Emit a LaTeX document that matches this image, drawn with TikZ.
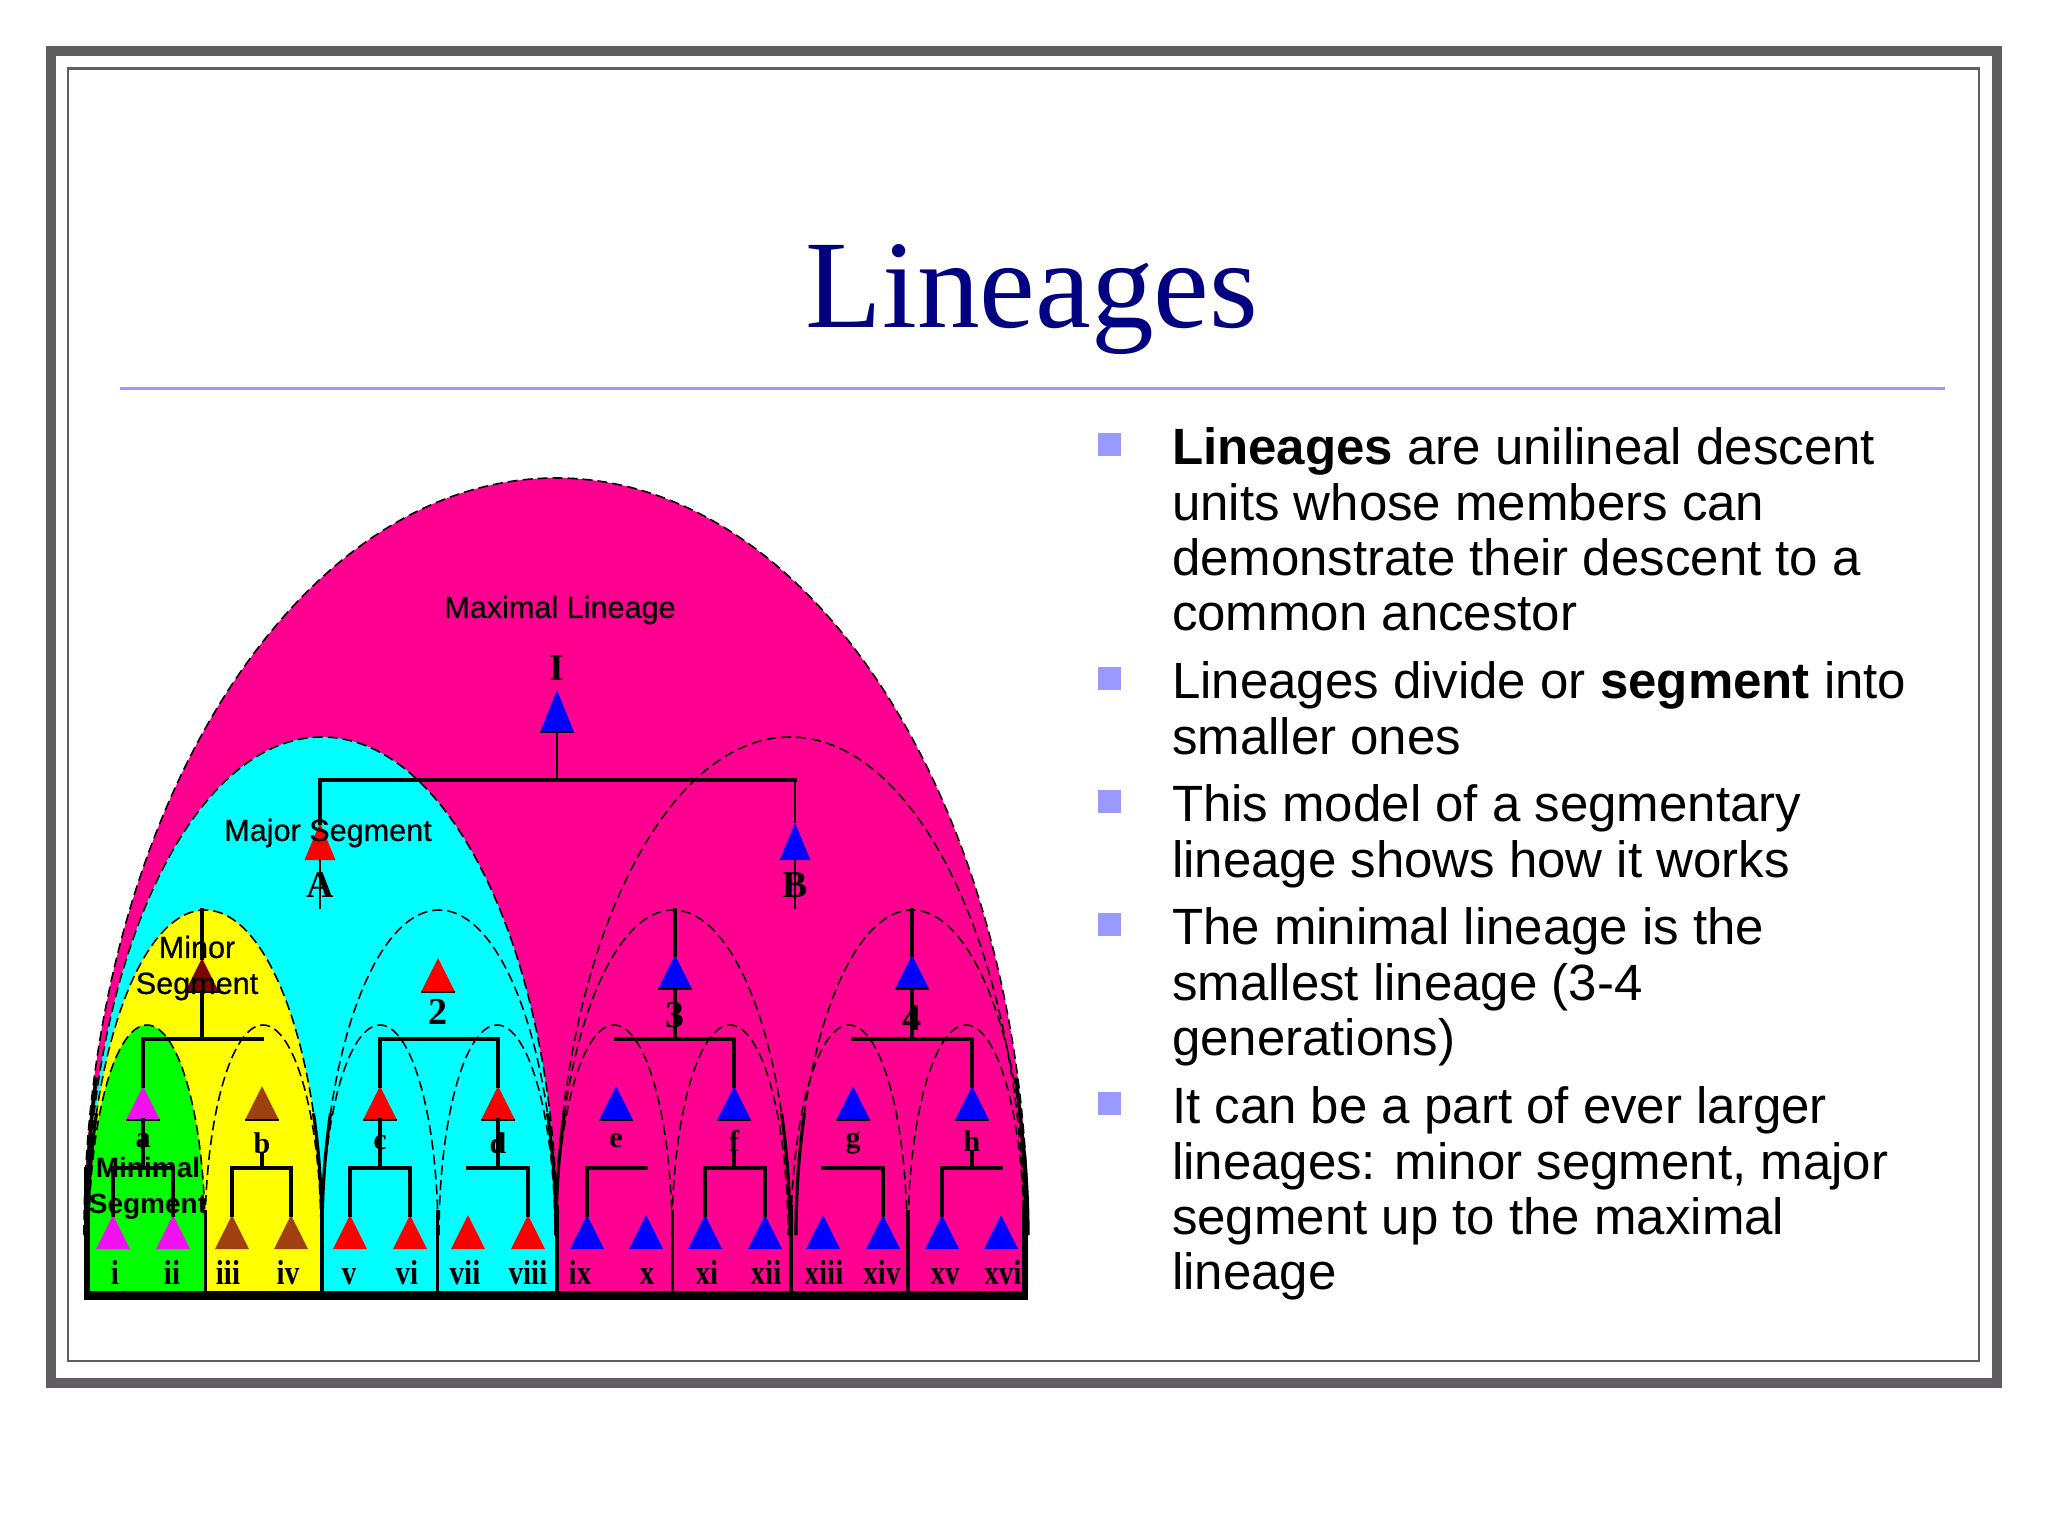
\documentclass[tikz,border=0pt]{standalone}
\usepackage{fontspec}
\setmainfont{Liberation Sans}
\newfontfamily\lserif{Liberation Serif}
\newfontfamily\segfont[FakeBold=0.7]{Liberation Sans}
\usetikzlibrary{shapes.geometric}
\definecolor{framegray}{HTML}{605E60}
\definecolor{titlenavy}{HTML}{000080}
\definecolor{accentblue}{HTML}{9999FF}
\definecolor{hotpink}{HTML}{FF0090}
\definecolor{lcyan}{HTML}{00FFFF}
\definecolor{lyellow}{HTML}{FFFF00}
\definecolor{lgreen}{HTML}{00FF00}
\definecolor{lblue}{HTML}{0000FF}
\definecolor{lred}{HTML}{FF0000}
\definecolor{lmag}{HTML}{F010F0}
\definecolor{lbrown}{HTML}{A04010}
\definecolor{ldark}{HTML}{800000}
\tikzset{
  x=0.5pt,y=-0.5pt,
  tribox/.style={isosceles triangle,isosceles triangle stretches,shape border rotate=90,
    minimum width=17pt,minimum height=17pt,inner sep=0pt,outer sep=0pt,anchor=apex,draw=none},
  tallbox/.style={tribox,minimum width=17pt,minimum height=21pt},
  midbox/.style={tribox,minimum width=15.5pt,minimum height=18.5pt},
  tree/.style={line width=1.7pt,black,line cap=rect},
  thinstem/.style={line width=1.2pt,black},
  dasharc/.style={line width=0.8pt,black,dash pattern=on 5pt off 2.5pt},
  bulsq/.style={fill=accentblue,draw=none,minimum size=11.5pt,inner sep=0pt,outer sep=0pt},
  bultext/.style={anchor=north west,align=left,inner sep=0pt,outer sep=0pt,
    font=\fontsize{25.5}{27.6}\selectfont},
  roman/.style={inner sep=0pt,font=\lserif\bfseries\fontsize{14.5}{15}\selectfont},
  letter/.style={inner sep=0pt,font=\lserif\bfseries\fontsize{15}{15}\selectfont},
  big/.style={inner sep=0pt,font=\lserif\bfseries\fontsize{19}{19}\selectfont},
  seg/.style={inner sep=0pt,align=center,font=\segfont\fontsize{15.3}{18}\selectfont}
}
\newcommand\archfill[4]{\fill[#4] (#1-#2,1291) -- (#1-#2,1235) arc[start angle=180,end angle=0,x radius={#2*0.5pt},y radius={1235*0.5pt-#3*0.5pt}] -- (#1+#2,1291) -- cycle;}
\newcommand\archline[3]{\draw[dasharc] (#1-#2,1235) arc[start angle=180,end angle=0,x radius={#2*0.5pt},y radius={1235*0.5pt-#3*0.5pt}];}
\newcommand\archfoot[4]{%
  \draw[line width=1.6pt] (#1-#2,1235) arc[start angle=180,end angle={180-#4},x radius={#2*0.5pt},y radius={1235*0.5pt-#3*0.5pt}];
  \draw[line width=1.6pt] (#1+#2,1235) arc[start angle=0,end angle={#4},x radius={#2*0.5pt},y radius={1235*0.5pt-#3*0.5pt}];}
\newcommand\tri[4]{\node[tribox,fill=#4] (#1) at (#2,#3) {};}
\newcommand\trib[4]{\node[tribox,fill=#4] (#1) at (#2,#3) {};\draw[line width=1.2pt] (#1.left corner) -- (#1.right corner);}
\newcommand\bul[4]{\node[bulsq] (#1s) at (1109.5,#2) {};\node[bultext] (#1) at (1172,#3) {#4};}
\begin{document}
\begin{tikzpicture}
\useasboundingbox (0,0) rectangle (2048,1536);
\fill[white] (0,0) rectangle (2048,1536);
% frames
\node[draw=framegray,line width=5pt,minimum width=973pt,minimum height=665.75pt,inner sep=0pt,outer sep=0pt] (outerframe) at (1024,716.75) {};
\node[draw=framegray,line width=1.2pt,minimum width=955.5pt,minimum height=646.25pt,inner sep=0pt,outer sep=0pt] (innerframe) at (1023.5,714.75) {};
% title
\node[anchor=base,inner sep=0pt,text=titlenavy,font=\lserif\fontsize{62.7}{63}\selectfont] (title) at (1032,327) {Lineages};
\coordinate (ruleL) at (120,388);
\coordinate (ruleR) at (1945,388);
\draw[accentblue,line width=1.5pt] (ruleL) -- (ruleR);
% bullets
\bul{b1}{444.5}{428}{\textbf{Lineages} are unilineal descent\\units whose members can\\demonstrate their descent to a\\common ancestor}
\bul{b2}{678}{662}{Lineages divide or \textbf{segment} into\\smaller ones}
\bul{b3}{801}{785}{This model of a segmentary\\lineage shows how it works}
\bul{b4}{924}{908}{The minimal lineage is the\\smallest lineage (3-4\\generations)}
\bul{b5}{1103}{1087}{It can be a part of ever larger\\lineages: minor segment, major\\segment up to the maximal\\lineage}
% coloured regions
\archfill{556}{472}{478}{hotpink}
\archfill{322}{235}{737}{lcyan}
\archfill{205}{117}{910}{lyellow}
\archfill{147}{58}{1025}{lgreen}
% dashed arches
\archline{556}{472}{478}
\archline{322}{235}{737}
\archline{790}{234}{737}
\archline{205}{117}{910}
\archline{439}{117}{910}
\archline{673}{117}{910}
\archline{912}{116}{910}
\archline{147}{58}{1025}
\archline{263}{58}{1025}
\archline{380}{58}{1025}
\archline{497}{58}{1025}
\archline{614}{58}{1025}
\archline{730}{58}{1025}
\archline{849}{58}{1025}
\archline{966}{58}{1025}
% solid feet
\archfoot{556}{470}{478}{12}
\archfoot{205}{117}{910}{22}
\archfoot{439}{117}{910}{22}
\archfoot{673}{117}{910}{22}
\archfoot{912}{116}{910}{22}
% walls and band
\fill (84,1291) rectangle (1028,1300);
\fill (84,1167) rectangle (90,1291);
\fill (1022,1205) rectangle (1028,1291);
\fill (319.5,1205) rectangle (324,1291);
\fill (555,1205) rectangle (559,1291);
\fill (789,1205) rectangle (793,1291);
\fill (906,1210) rectangle (910,1291);
\fill (204,1210) rectangle (207,1291);
\fill (436,1210) rectangle (439,1291);
\fill (671,1210) rectangle (674,1291);
% triangles
\node[tallbox,fill=lblue] (tI) at (557,690) {};
\draw[line width=1.2pt] (tI.left corner) -- (tI.right corner);
\node[midbox,fill=lred] (tA) at (320,823) {};
\node[midbox,fill=lblue] (tB) at (795,823) {};
\trib{t1}{202}{958}{ldark}
\trib{t2}{438}{958}{lred}
\trib{t3}{675}{955}{lblue}
\trib{t4}{912}{955}{lblue}
\trib{ta}{143}{1086}{lmag}
\trib{tb}{262}{1086}{lbrown}
\trib{tc}{380}{1086}{lred}
\trib{td}{498}{1086}{lred}
\trib{te}{616}{1086}{lblue}
\trib{tf}{734}{1086}{lblue}
\trib{tg}{853}{1086}{lblue}
\trib{th}{972}{1086}{lblue}
\tri{ti}{113}{1215}{lmag}
\tri{tii}{173}{1215}{lmag}
\tri{tiii}{232}{1215}{lbrown}
\tri{tiv}{291}{1215}{lbrown}
\tri{tv}{350}{1215}{lred}
\tri{tvi}{410}{1215}{lred}
\tri{tvii}{468}{1215}{lred}
\tri{tviii}{528}{1215}{lred}
\tri{tix}{587}{1215}{lblue}
\tri{tx}{646}{1215}{lblue}
\tri{txi}{705}{1215}{lblue}
\tri{txii}{765}{1215}{lblue}
\tri{txiii}{823}{1215}{lblue}
\tri{txiv}{883}{1215}{lblue}
\tri{txv}{942}{1215}{lblue}
\tri{txvi}{1001}{1215}{lblue}
% junctions
\coordinate (jI) at (557,780);
\coordinate (eA) at (320,909);
\coordinate (eB) at (795,909);
\coordinate (s1) at (202,910);
\coordinate (s3) at (675,910);
\coordinate (s4) at (912,910);
\coordinate (j1) at (202,1039);
\coordinate (j2) at (438,1039);
\coordinate (j3) at (675,1039);
\coordinate (j4) at (912,1039);
\coordinate (ja) at (143,1168);
\coordinate (jb) at (262,1168);
\coordinate (jc) at (380,1168);
\coordinate (jd) at (498,1168);
\coordinate (je) at (616,1168);
\coordinate (jf) at (734,1168);
\coordinate (jg) at (853,1168);
\coordinate (jh) at (972,1168);
% labels
\node[seg] (lmax) at (560,610) {Maximal Lineage};
\node[seg] (lmaj) at (328,833) {Major Segment};
\node[seg] (lmin) at (197,968) {Minor\\Segment};
\node[seg,font=\bfseries\fontsize{14}{18}\selectfont] (lmnl) at (148,1188) {Minimal\\Segment};
\node[big] (nI) at (557,668) {I};
\node[big] (nA) at (320,885) {A};
\node[big] (nB) at (795,885) {B};
\node[big] (n2) at (438,1012) {2};
\node[big] (n3) at (675,1015) {3};
\node[big] (n4) at (912,1018) {4};
\node[letter] (la) at (143,1141) {a};
\node[letter] (lb) at (262,1143) {b};
\node[letter] (lc) at (380,1143) {c};
\node[letter] (ld) at (498,1143) {d};
\node[letter] (le) at (616,1141) {e};
\node[letter] (lf) at (734,1141) {f};
\node[letter] (lg) at (853,1143) {g};
\node[letter] (lh) at (972,1141) {h};
\foreach \nm/\xx/\tx in {i/115/i,ii/172/ii,iii/228/iii,iv/288/iv,v/349/v,vi/407/vi,vii/465/vii,viii/528/viii,ix/580/ix,x/647/x,xi/707/xi,xii/766/xii,xiii/824/xiii,xiv/882/xiv,xv/945/xv,xvi/1003/xvi}
  \node[roman,anchor=base] (r\nm) at (\xx,1284) {\scalebox{1}[1.2]{\tx}};
% tree connectors
\draw[thinstem] (tI.lower side) -- (jI);
\draw[tree] (tA.apex) -- (tA.apex |- jI) -- (tB.apex |- jI);
\draw[thinstem] (tB.apex |- jI) -- (tB.apex);
\draw[thinstem] (tA.lower side) -- (eA);
\draw[thinstem] (tB.lower side) -- (eB);
\draw[tree] (s1) -- (t1.apex);
\draw[tree] (t1.lower side) -- (j1);
\draw[tree] (s3) -- (t3.apex);
\draw[tree] (t3.lower side) -- (j3);
\draw[tree] (s4) -- (t4.apex);
\draw[tree] (t4.lower side) -- (j4);
\draw[tree] (ta.apex) -- (ta.apex |- j1) -- (tb.apex |- j1);
\draw[tree] (tc.apex) -- (tc.apex |- j2) -- (td.apex |- j2) -- (td.apex);
\draw[tree] (te.apex |- j3) -- (tf.apex |- j3) -- (tf.apex);
\draw[tree] (tg.apex |- j4) -- (th.apex |- j4) -- (th.apex);
\draw[tree] (ta.lower side) -- (ja);
\draw[tree] (lb.south) -- (jb);
\draw[tree] (tc.lower side) -- (jc);
\draw[tree] (td.lower side) -- (jd);
\draw[tree] (lf.south) -- (jf);
\draw[tree] (lh.south) -- (jh);
\draw[tree] (ti.apex) -- (ti.apex |- ja) -- (tii.apex |- ja) -- (tii.apex);
\draw[tree] (tiii.apex) -- (tiii.apex |- jb) -- (tiv.apex |- jb) -- (tiv.apex);
\draw[tree] (tv.apex) -- (tv.apex |- jc) -- (tvi.apex |- jc) -- (tvi.apex);
\draw[tree] (tvii.apex |- jd) -- (tviii.apex |- jd) -- (tviii.apex);
\draw[tree] (tix.apex) -- (tix.apex |- je) -- (tx.apex |- je);
\draw[tree] (txi.apex) -- (txi.apex |- jf) -- (txii.apex |- jf) -- (txii.apex);
\draw[tree] (txiii.apex |- jg) -- (txiv.apex |- jg) -- (txiv.apex);
\draw[tree] (txv.apex) -- (txv.apex |- jh) -- (txvi.apex |- jh);
\end{tikzpicture}
\end{document}
